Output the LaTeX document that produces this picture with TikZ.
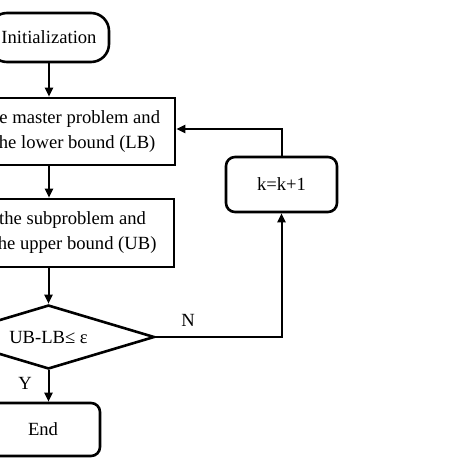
\documentclass[tikz,border=0pt]{standalone}
\usepackage{fontspec}
\setmainfont{Liberation Serif}
\usetikzlibrary{shapes.geometric,arrows.meta}
\tikzset{
  boxline/.style={draw, line width=2.6pt, inner sep=0pt, align=center,
    font=\fontsize{18.6}{25}\selectfont},
  procbox/.style={boxline},
  roundbox/.style={boxline, rounded corners=9pt},
  termbox/.style={boxline, rounded corners=18pt},
  decbox/.style={boxline, diamond, shape aspect=3.3},
  conn/.style={line width=2pt, -{Triangle[length=9pt,width=8pt]}},
  lbl/.style={font=\fontsize{18.6}{22}\selectfont, inner sep=0pt}
}
\begin{document}
\begin{tikzpicture}[x=1pt,y=-1pt]
\useasboundingbox (0,0) rectangle (474,474);
\clip (0,0) rectangle (474,474);
\node[termbox, minimum width=120pt, minimum height=49pt] (init) at (49,37.5) {Initialization};
\node[procbox, minimum width=252pt, minimum height=67pt] (master) at (49,131.5)
  {Solve the master problem and\\obtain the lower bound (LB)};
\node[procbox, minimum width=250pt, minimum height=68pt] (sub) at (49,233)
  {Solve the subproblem and\\obtain the upper bound (UB)};
\node[decbox, minimum width=212pt, minimum height=64pt] (dec) at (48.5,337) {UB-LB≤ ε};
\node[roundbox, minimum width=114pt, minimum height=53pt] (end) at (43,429.5) {End};
\node[roundbox, minimum width=111pt, minimum height=55pt] (kbox) at (281.5,184.5) {k=k+1};
\coordinate (turn) at (281.5,129);
\node[lbl] (nlbl) at (188,320) {N};
\node[lbl] (ylbl) at (25,383) {Y};
\draw[conn] (init.south) -- (master.north);
\draw[conn] (master.south) -- (sub.north);
\draw[conn] (dec.north |- sub.south) -- (dec.north);
\draw[conn] (dec.south) -- (dec.south |- end.north);
\draw[conn] (dec.east) -- (kbox.south |- dec.east) -- (kbox.south);
\draw[conn] (kbox.north) -- (turn) -- (turn -| master.east);
\end{tikzpicture}
\end{document}
